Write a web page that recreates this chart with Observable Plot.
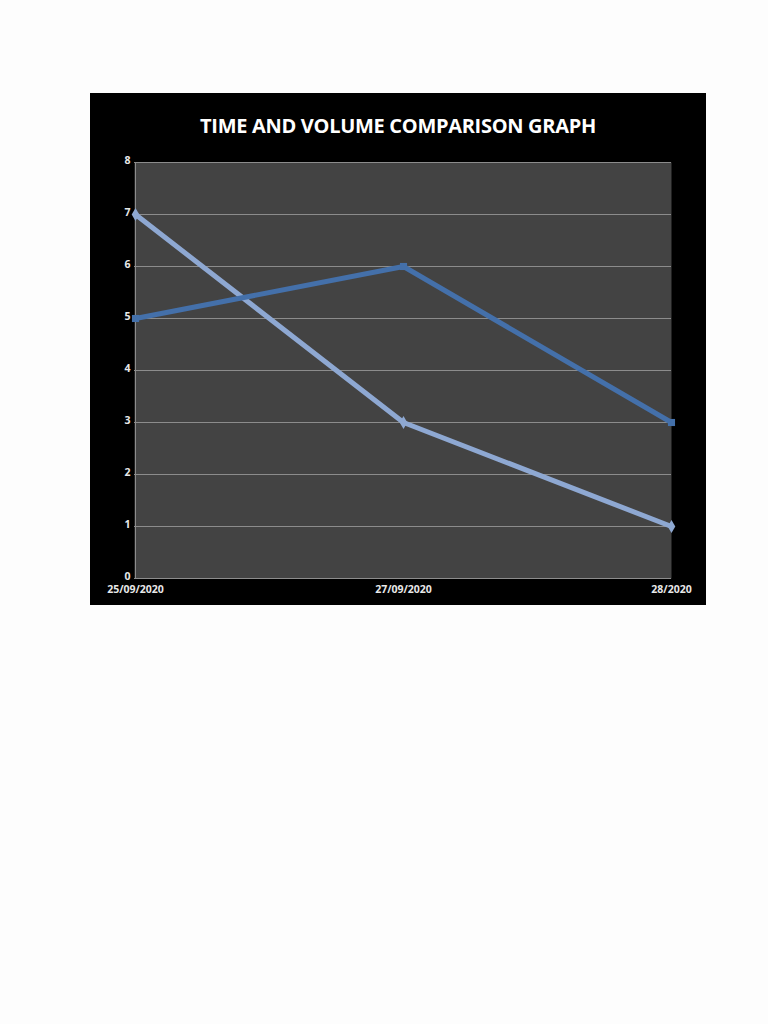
<!DOCTYPE html>
<html>
<head>
<meta charset="utf-8">
<script src="https://cdn.jsdelivr.net/npm/d3@7"></script>
<script src="https://cdn.jsdelivr.net/npm/@observablehq/plot@0.6"></script>
<style>
  html, body { margin: 0; padding: 0; background: #fdfdfd; }
  #box { position: absolute; left: 90px; top: 93px; width: 616px; height: 512px; background: #000; }
  #title { height: 50px; box-sizing: border-box; padding-top: 21px; line-height: 24px; text-align: center;
           color: #fff; font-family: "Open Sans", sans-serif; font-weight: bold; font-size: 20px; letter-spacing: -0.3px; }
  #chart svg { display: block; }
</style>
</head>
<body>
<div id="box">
  <div id="title">TIME AND VOLUME COMPARISON GRAPH</div>
  <div id="chart"></div>
</div>
<script>
const dates = ["25/09/2020", "27/09/2020", "28/2020"];
const timeValues = [7, 3, 1];
const volumeValues = [5, 6, 3];
const yTicks = [0, 1, 2, 3, 4, 5, 6, 7, 8];

const timeRows = dates.map((d, i) => ({date: d, value: timeValues[i]}));
const volumeRows = dates.map((d, i) => ({date: d, value: volumeValues[i]}));

const darkBlue = "#4470aa";
const lightBlue = "#8ea8d2";
const gridColor = "#8c8c8c";

const chart = Plot.plot({
  width: 616,
  height: 462,
  marginLeft: 44,
  marginRight: 35,
  marginTop: 19,
  marginBottom: 27,
  style: {background: "transparent", color: "#fff", fontFamily: "Open Sans, sans-serif", fontSize: "10.5px", fontWeight: "bold"},
  x: {type: "point", domain: dates, padding: 0, label: null},
  y: {domain: [0, 8], label: null},
  marks: [
    Plot.frame({fill: "#434343", stroke: null}),
    Plot.gridY(yTicks, {stroke: gridColor, strokeOpacity: 1, strokeWidth: 1}),
    Plot.ruleX([dates[0]], {stroke: gridColor, strokeWidth: 1}),
    Plot.axisY(yTicks, {tickSize: 0, tickPadding: 4, fill: "#e8e8e8", label: null, tickFormat: d3.format("d"), dy: -2}),
    Plot.axisX(dates, {tickSize: 0, tickPadding: 7, fill: "#e8e8e8", label: null}),
    Plot.line(timeRows, {x: "date", y: "value", stroke: lightBlue, strokeWidth: 5}),
    Plot.line(volumeRows, {x: "date", y: "value", stroke: darkBlue, strokeWidth: 5}),
    Plot.dot(timeRows, {x: "date", y: "value", symbol: "diamond", fill: lightBlue, r: 4}),
    Plot.dot(volumeRows, {x: "date", y: "value", symbol: "square", fill: darkBlue, r: 4})
  ]
});
document.getElementById("chart").appendChild(chart);
</script>
</body>
</html>
